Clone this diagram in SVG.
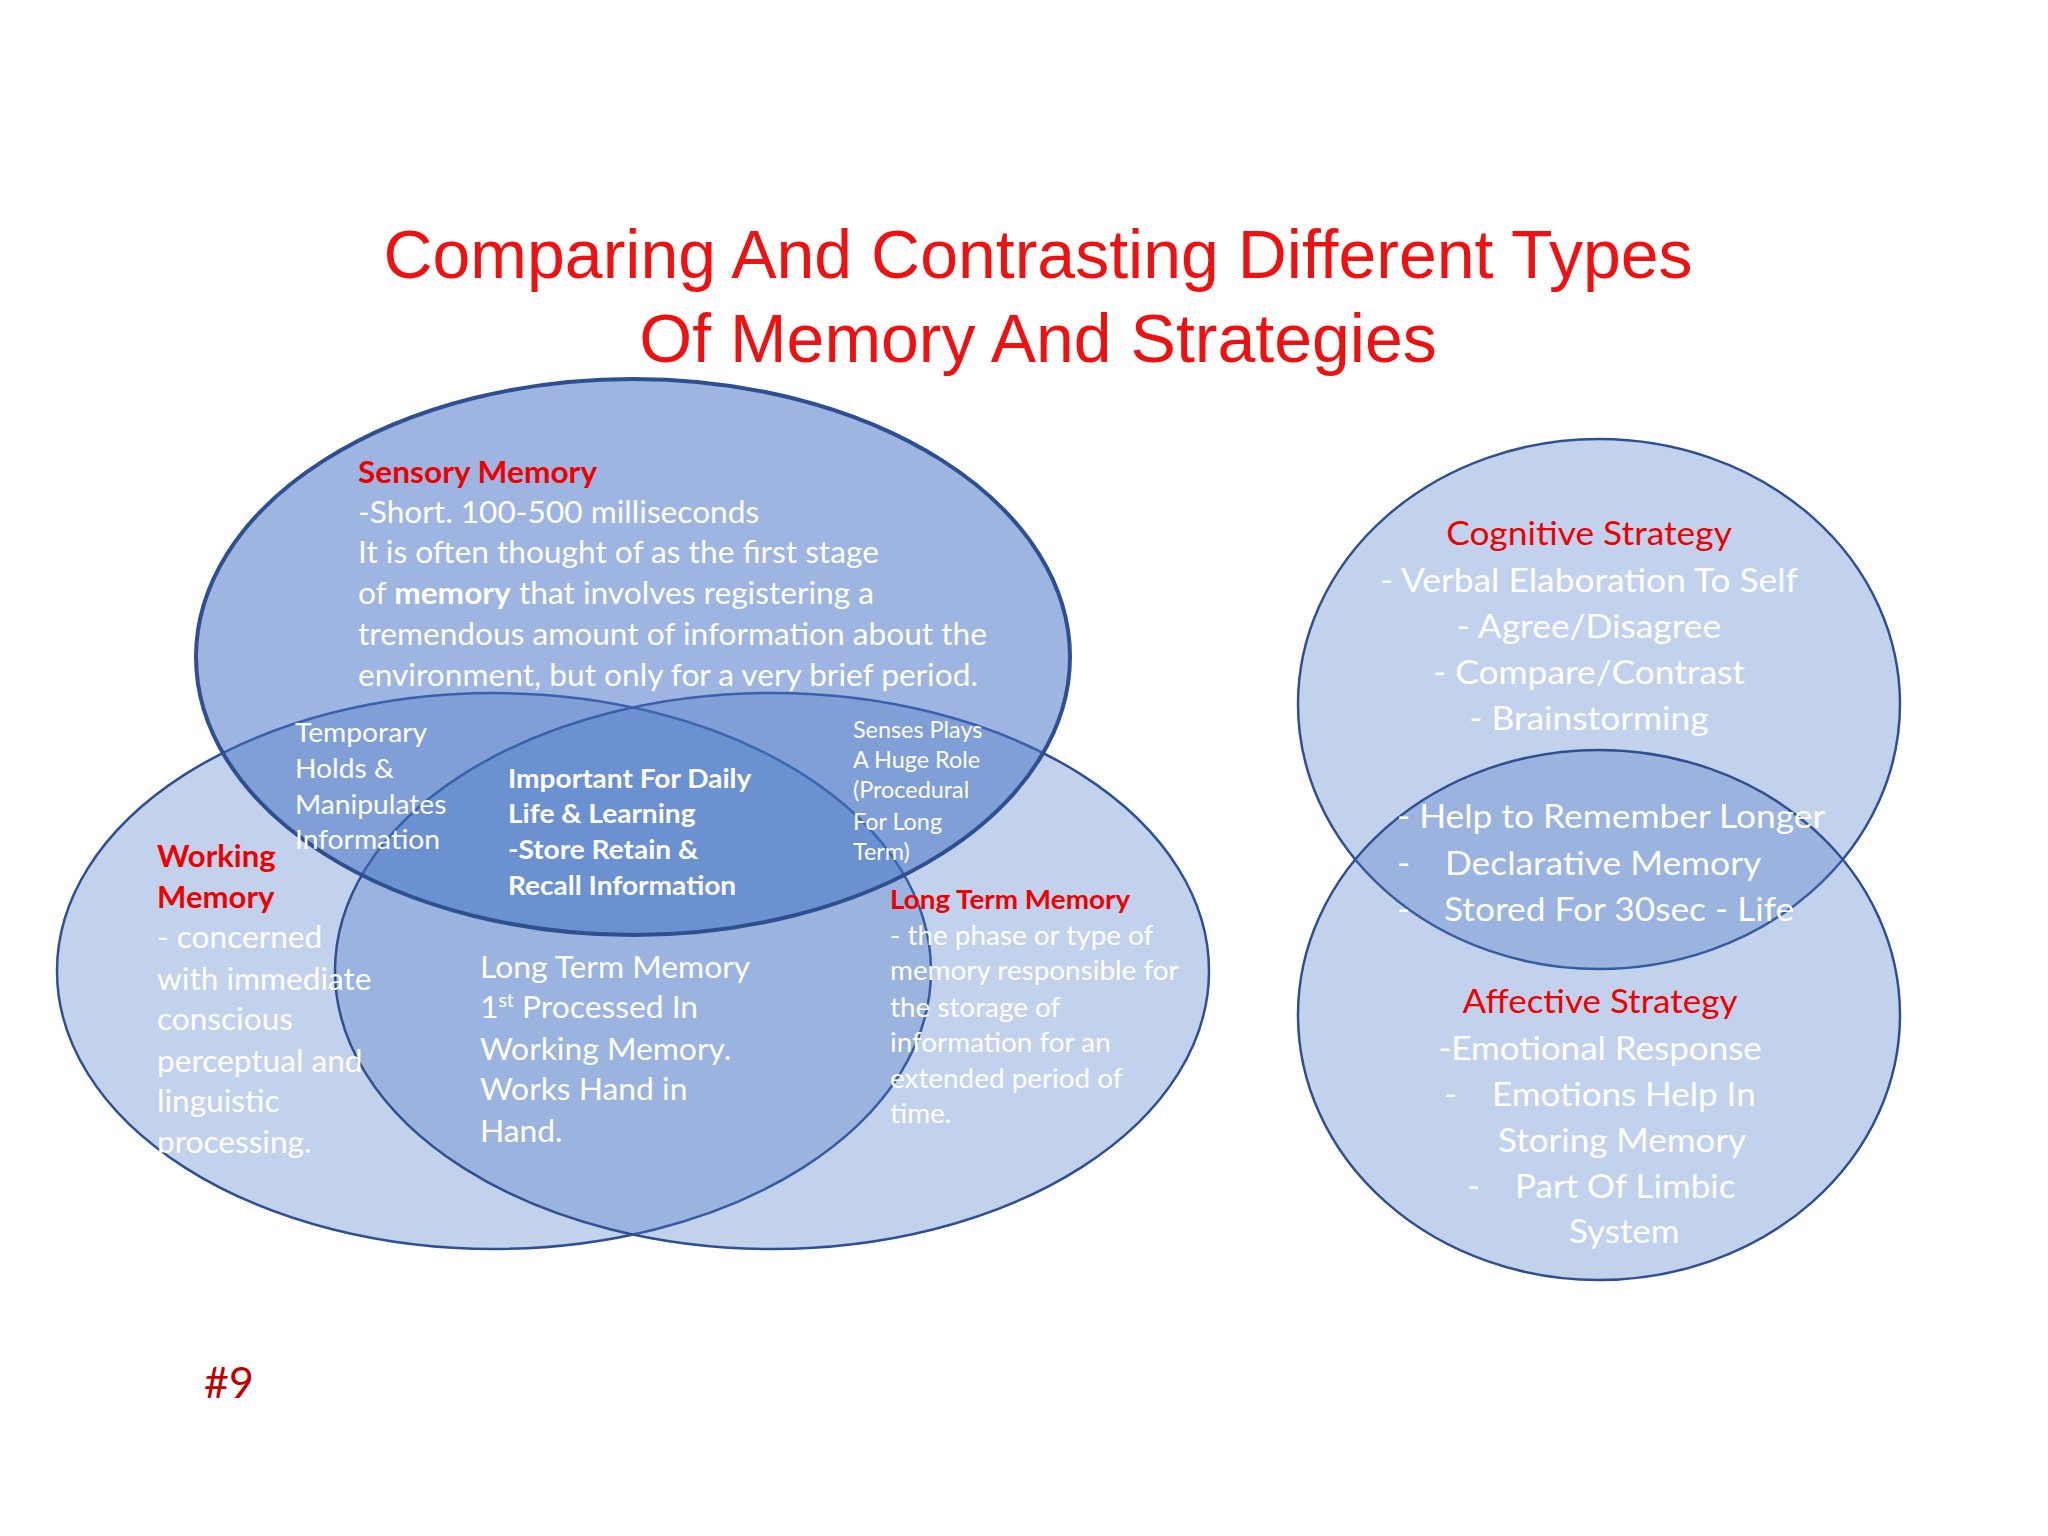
<svg xmlns="http://www.w3.org/2000/svg" width="2048" height="1536" viewBox="0 0 2048 1536">
<style>
.shape{fill:#4472C4;stroke:#2F5090;}
.light{fill-opacity:0.32;stroke-width:2.5;}
.mid{fill-opacity:0.52;stroke-width:4;}
.t{font-family:Lato,"Open Sans",sans-serif;fill:#FFFFFF;}
.b{font-weight:bold;}
.red{fill:#EE0000;}
.title{font-family:"Liberation Sans",Arial,sans-serif;font-size:68px;fill:#EE1111;text-anchor:middle;}
.c{text-anchor:middle;}
</style>
<rect width="2048" height="1536" fill="#FFFFFF"/>
<g id="title">
<text class="title" x="1038" y="278">Comparing And Contrasting Different Types</text>
<text class="title" x="1038" y="362">Of Memory And Strategies</text>
</g>
<g id="working-memory-shape"><ellipse class="shape light" cx="494" cy="971" rx="437" ry="278"/></g>
<g id="long-term-memory-shape"><ellipse class="shape light" cx="772" cy="971" rx="437" ry="278"/></g>
<g id="sensory-memory-shape"><ellipse class="shape mid" cx="633" cy="657" rx="437" ry="278"/></g>
<g id="cognitive-strategy-shape"><ellipse class="shape light" cx="1599" cy="704" rx="301" ry="265"/></g>
<g id="affective-strategy-shape"><ellipse class="shape light" cx="1599" cy="1015" rx="301" ry="265"/></g>

<g id="sensory-memory" class="t" font-size="30.5" transform="translate(358 0) scale(1.038 1) translate(-358 0)">
<text x="358" y="483" class="t b red">Sensory Memory</text>
<text x="358" y="523">-Short. 100-500 milliseconds</text>
<text x="358" y="563">It is often thought of as the first stage</text>
<text x="358" y="604">of <tspan font-weight="bold">memory</tspan> that involves registering a</text>
<text x="358" y="645">tremendous amount of information about the</text>
<text x="358" y="686">environment, but only for a very brief period.</text>
</g>
<g id="sensory-working-overlap" class="t" font-size="27" transform="translate(295 0) scale(1.045 1) translate(-295 0)">
<text x="295" y="742">Temporary</text>
<text x="295" y="778">Holds &amp;</text>
<text x="295" y="814">Manipulates</text>
<text x="295" y="849">Information</text>
</g>
<g id="working-memory" class="t" font-size="31" transform="translate(157 0) scale(1.02 1) translate(-157 0)">
<text x="157" y="867" class="t b red" font-size="30.5">Working</text>
<text x="157" y="908" class="t b red" font-size="30.5">Memory</text>
<text x="157" y="948">- concerned</text>
<text x="157" y="990">with immediate</text>
<text x="157" y="1030">conscious</text>
<text x="157" y="1072">perceptual and</text>
<text x="157" y="1112">linguistic</text>
<text x="157" y="1153">processing.</text>
</g>
<g id="center-overlap" class="t b" font-size="27" transform="translate(508 0) scale(1.04 1) translate(-508 0)">
<text x="508" y="788">Important For Daily</text>
<text x="508" y="823">Life &amp; Learning</text>
<text x="508" y="859">-Store Retain &amp;</text>
<text x="508" y="895">Recall Information</text>
</g>
<g id="working-longterm-overlap" class="t" font-size="31" transform="translate(480 0) scale(1.026 1) translate(-480 0)">
<text x="480" y="978">Long Term Memory</text>
<text x="480" y="1018">1<tspan font-size="19" dy="-11">st</tspan><tspan dy="11"> Processed In</tspan></text>
<text x="480" y="1060">Working Memory.</text>
<text x="480" y="1100">Works Hand in</text>
<text x="480" y="1142">Hand.</text>
</g>
<g id="sensory-longterm-overlap" class="t" font-size="23" transform="translate(853 0) scale(1.017 1) translate(-853 0)">
<text x="853" y="738">Senses Plays</text>
<text x="853" y="768">A Huge Role</text>
<text x="853" y="798">(Procedural</text>
<text x="853" y="830">For Long</text>
<text x="853" y="860">Term)</text>
</g>
<g id="long-term-memory" class="t" font-size="26.5" transform="translate(890 0) scale(1.052 1) translate(-890 0)">
<text x="890" y="909" class="t b red">Long Term Memory</text>
<text x="890" y="945">- the phase or type of</text>
<text x="890" y="980">memory responsible for</text>
<text x="890" y="1017">the storage of</text>
<text x="890" y="1052">information for an</text>
<text x="890" y="1088">extended period of</text>
<text x="890" y="1123">time.</text>
</g>
<g id="cognitive-strategy" class="t" font-size="33.5" transform="translate(1589 0) scale(1.055 1) translate(-1589 0)">
<text x="1589" y="545" class="t c red">Cognitive Strategy</text>
<text x="1589" y="592" class="t c">- Verbal Elaboration To Self</text>
<text x="1589" y="638" class="t c">- Agree/Disagree</text>
<text x="1589" y="684" class="t c">- Compare/Contrast</text>
<text x="1589" y="730" class="t c">- Brainstorming</text>
</g>
<g id="strategy-overlap" class="t" font-size="33.5" transform="translate(1397 0) scale(1.055 1) translate(-1397 0)">
<text x="1397" y="828">- Help to Remember Longer</text>
<text x="1397" y="875">-</text><text x="1442.5" y="875">Declarative Memory</text>
<text x="1397" y="921">-</text><text x="1441.5" y="921">Stored For 30sec - Life</text>
</g>
<g id="affective-strategy" class="t" font-size="33.5" transform="translate(1600 0) scale(1.045 1) translate(-1600 0)">
<text x="1600" y="1013" class="t c red">Affective Strategy</text>
<text x="1600" y="1060" class="t c">-Emotional Response</text>
<text x="1450.7" y="1106">-</text><text x="1496.7" y="1106">Emotions Help In</text>
<text x="1502.4" y="1152">Storing Memory</text>
<text x="1472.7" y="1198">-</text><text x="1518.7" y="1198">Part Of Limbic</text>
<text x="1570.3" y="1243">System</text>
</g>
<g id="slide-number">
<text x="204" y="1398" font-family="Lato,'Open Sans',sans-serif" font-size="43" fill="#C00000">#9</text>
</g>
<g id="connectors"></g>
</svg>
